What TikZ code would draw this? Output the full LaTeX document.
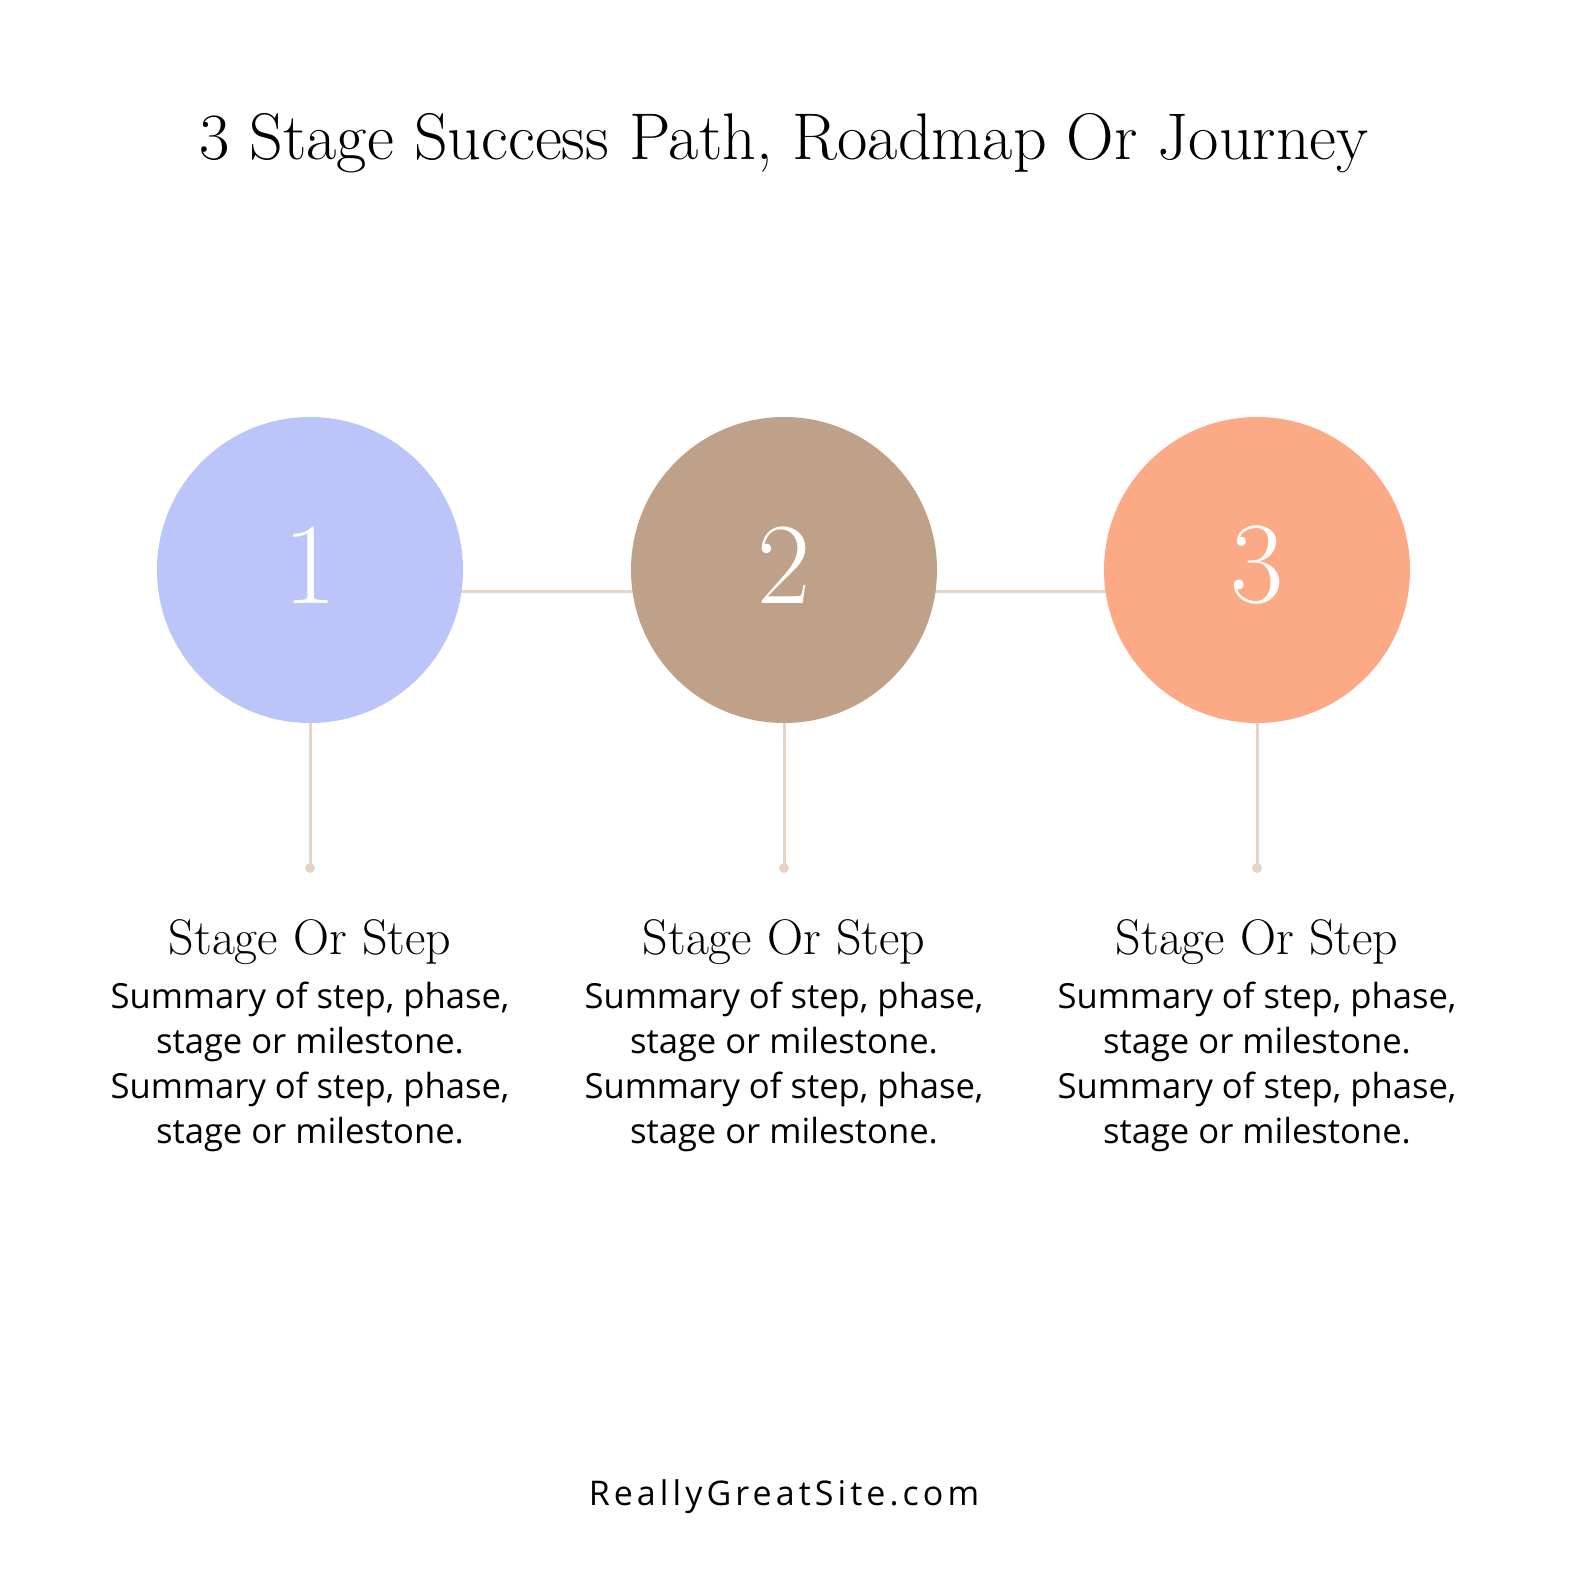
\documentclass[tikz,border=0pt]{standalone}
\usepackage{fontspec}
\newfontfamily\osans{Open Sans}
\newfontfamily\osansls[LetterSpace=12]{Open Sans}
\definecolor{cA}{HTML}{BCC5FA}
\definecolor{cB}{HTML}{BFA088}
\definecolor{cC}{HTML}{FCA985}
\definecolor{ln}{HTML}{E6D5C6}
\begin{document}
\begin{tikzpicture}[x=0.5pt,y=-0.5pt,
  num/.style={text=white,font=\fontsize{58}{60}\selectfont},
  stitle/.style={font=\fontsize{25}{28}\selectfont},
  summ/.style={font=\osans\fontsize{17.3}{22.5}\selectfont,align=center},
  conn/.style={draw=ln,line width=1.5pt}]
\useasboundingbox (0,0) rectangle (1588,1588);
\fill[white] (0,0) rectangle (1588,1588);
\node (title) at (784,143) {\fontsize{33}{38}\selectfont 3 Stage Success Path, Roadmap Or Journey};
\foreach \i/\x in {1/310,2/784,3/1257}{
  \coordinate (t\i) at (\x,723);
  \coordinate (d\i) at (\x,868);
  \draw[conn] (t\i) -- (d\i);
  \fill[ln] (d\i) circle (5);
}
\coordinate (h1) at (460,591); \coordinate (h2) at (634,591);
\coordinate (h3) at (934,591); \coordinate (h4) at (1107,591);
\draw[conn] (h1) -- (h2); \draw[conn] (h3) -- (h4);
\foreach \i/\x/\c/\n in {1/310/cA/1,2/784/cB/2,3/1257/cC/3}{
  \fill[\c] (\x,570) circle (153);
  \node[num] (n\i) at (\x,565) {\n};
  \node[stitle] (s\i) at (\x,942) {Stage Or Step};
  \node[summ,anchor=north] (m\i) at (\x,975) {Summary of step, phase,\\stage or milestone.\\Summary of step, phase,\\stage or milestone.};
}
\node[font=\osansls\fontsize{17}{20}\selectfont] (foot) at (784,1497) {ReallyGreatSite.com};
\end{tikzpicture}
\end{document}
